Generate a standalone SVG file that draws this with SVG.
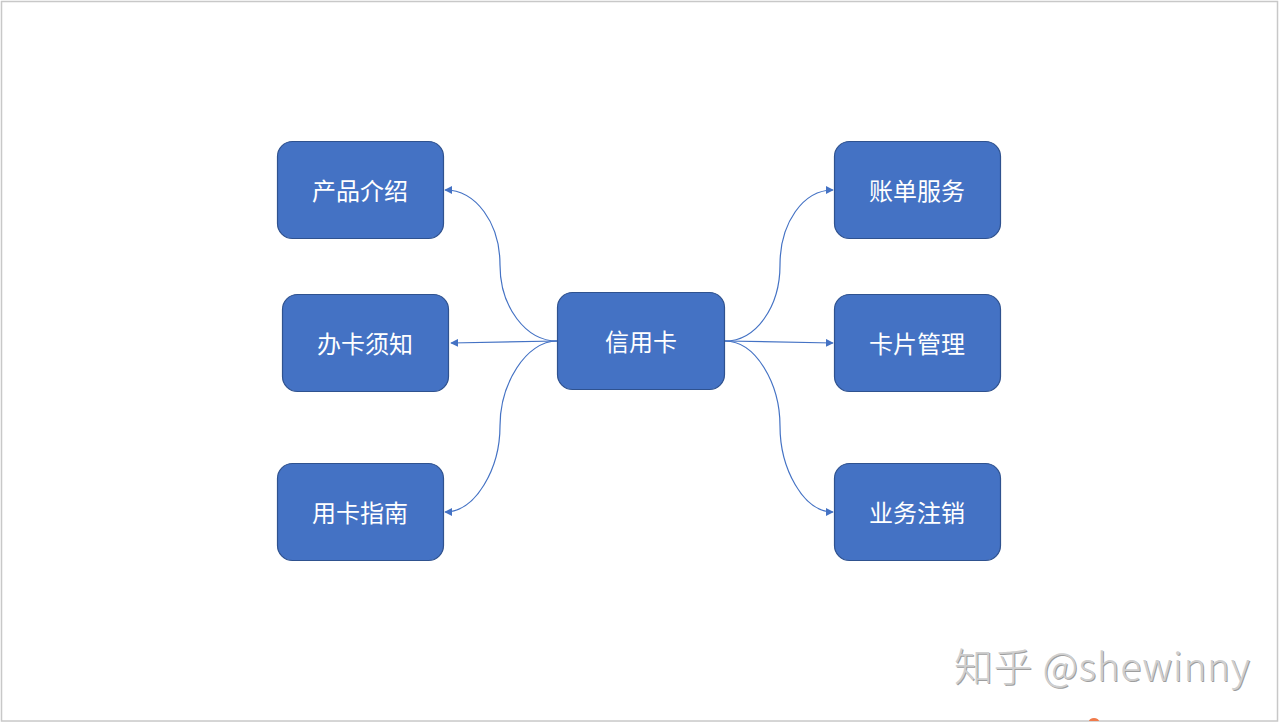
<svg xmlns="http://www.w3.org/2000/svg" width="1280" height="723" viewBox="0 0 1280 723">
<defs>
<style>
.node rect{fill:#4472C4;stroke:#2F528F;stroke-width:1.2}
.node text{fill:#ffffff;font-family:"Microsoft YaHei","Noto Sans CJK SC","Noto Sans",sans-serif;font-size:24px;text-anchor:middle;dominant-baseline:central}
.conn path{fill:none;stroke:#4472C4;stroke-width:1.2}
.wm{font-family:"Noto Sans CJK SC","Noto Sans",sans-serif;font-size:39px;font-weight:300;letter-spacing:0.6px}
</style>
<marker id="arr" viewBox="0 0 10 10" refX="9" refY="5" markerWidth="8" markerHeight="8" markerUnits="userSpaceOnUse" orient="auto">
<path d="M0,0 L10,5 L0,10 z" fill="#4472C4"/>
</marker>
</defs>
<rect x="0" y="0" width="1280" height="723" fill="#ffffff"/>
<rect x="1.5" y="1.5" width="1276" height="719.5" fill="none" stroke="#c8c8c8" stroke-width="1.5"/>
<g class="conn">
<path d="M557,341 C526,341 500,307 500,265 C500,223 476,190 445,190" marker-end="url(#arr)"/>
<path d="M557,341 L451,343" marker-end="url(#arr)"/>
<path d="M557,341 C526,341 500,384 500,426 C500,468 476,512 445,512" marker-end="url(#arr)"/>
<path d="M725,341 C756,341 780,307 780,265 C780,223 803,190 833,190" marker-end="url(#arr)"/>
<path d="M725,341 L833,343" marker-end="url(#arr)"/>
<path d="M725,341 C756,341 780,384 780,426 C780,468 803,512 833,512" marker-end="url(#arr)"/>
</g>
<g id="n-center" class="node"><rect x="557.5" y="292.5" width="167" height="97" rx="15"/><text x="641" y="340">信用卡</text></g>
<g id="n-product" class="node"><rect x="277.5" y="141.5" width="166" height="97" rx="15"/><text x="360" y="189">产品介绍</text></g>
<g id="n-apply" class="node"><rect x="282.5" y="294.5" width="166" height="97" rx="15"/><text x="365" y="342">办卡须知</text></g>
<g id="n-guide" class="node"><rect x="277.5" y="463.5" width="166" height="97" rx="15"/><text x="360" y="511">用卡指南</text></g>
<g id="n-bill" class="node"><rect x="834.5" y="141.5" width="166" height="97" rx="15"/><text x="917" y="189">账单服务</text></g>
<g id="n-card" class="node"><rect x="834.5" y="294.5" width="166" height="97" rx="15"/><text x="917" y="342">卡片管理</text></g>
<g id="n-cancel" class="node"><rect x="834.5" y="463.5" width="166" height="97" rx="15"/><text x="917" y="511">业务注销</text></g>
<g id="watermark">
<text class="wm" x="955" y="682" fill="#9e9e9e">知乎 @shewinny</text>
<text class="wm" x="954" y="681" fill="#cfcfcf">知乎 @shewinny</text>
</g>
<path d="M1089,721 A5,3 0 0 1 1099,721 Z" fill="#f07a4a"/>
</svg>
